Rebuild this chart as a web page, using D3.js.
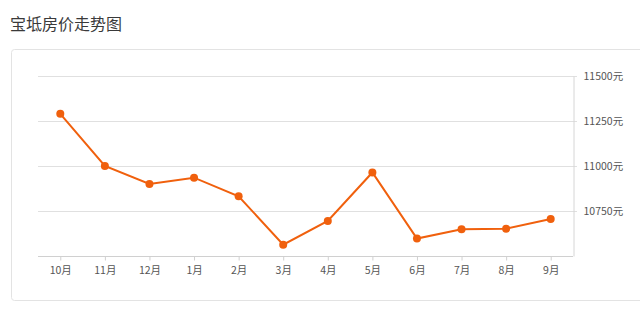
<!DOCTYPE html>
<html><head><meta charset="utf-8">
<script src="https://cdn.jsdelivr.net/npm/d3@7"></script>
<style>
html,body{margin:0;padding:0;background:#fff;}
svg{display:block;font-family:"Noto Sans CJK SC","Microsoft YaHei",sans-serif;}
</style></head>
<body><svg id="c" width="640" height="314"></svg>
<script>
const title = "宝坻房价走势图";
const months = ["10月","11月","12月","1月","2月","3月","4月","5月","6月","7月","8月","9月"];
const prices = [11290, 11000, 10900, 10935, 10832, 10563, 10695, 10964, 10597, 10649, 10652, 10706];
const yTicks = [10500, 10750, 11000, 11250, 11500];

(function () {
const svg = d3.select("#c");
svg.append("text").attr("x", 10).attr("y", 30).attr("font-size", 16).attr("fill", "#3a3a3a").text(title);
svg.append("rect").attr("x", 11.5).attr("y", 49.5).attr("width", 640).attr("height", 251)
  .attr("rx", 3).attr("fill", "#fff").attr("stroke", "#e3e3e3");

const pl = 38, pr = 573, pt = 76, pb = 256;
const x = d3.scalePoint().domain(months).range([pl, pr]).padding(0.5);
const y = d3.scaleLinear().domain([10500, 11500]).range([pb, pt]);

// grid
svg.append("g").selectAll("line").data(yTicks.slice(1)).join("line")
  .attr("x1", pl).attr("x2", pr + 4)
  .attr("y1", d => Math.round(y(d)) + 0.5).attr("y2", d => Math.round(y(d)) + 0.5)
  .attr("stroke", "#e0e0e0");

// right axis
const ya = svg.append("g").attr("transform", `translate(${pr + 0.5},0)`)
  .call(d3.axisRight(y).tickValues(yTicks.slice(1)).tickSize(0).tickPadding(10).tickFormat(d => d + "元"));
ya.select(".domain").attr("stroke", "#d6d6d6");
ya.selectAll("text").attr("font-size", 10.5).attr("fill", "#555").attr("font-family", "'Noto Sans CJK SC',sans-serif");

// bottom axis
const xa = svg.append("g").attr("transform", `translate(0,${pb + 0.5})`)
  .call(d3.axisBottom(x).tickSize(4).tickSizeOuter(0).tickPadding(6));
xa.select(".domain").attr("stroke", "#d0d0d0").attr("d", `M${pl},0H${pr}`);
xa.selectAll(".tick line").attr("stroke", "#d0d0d0");
xa.selectAll("text").attr("font-size", 10.5).attr("fill", "#555").attr("font-family", "'Noto Sans CJK SC',sans-serif");

const color = "#f0600d";
const line = d3.line().x((d, i) => x(months[i])).y(d => y(d));
svg.append("path").datum(prices).attr("d", line).attr("fill", "none")
  .attr("stroke", color).attr("stroke-width", 2);
svg.append("g").selectAll("circle").data(prices).join("circle")
  .attr("cx", (d, i) => x(months[i])).attr("cy", d => y(d)).attr("r", 4).attr("fill", color);
})();
</script></body></html>
